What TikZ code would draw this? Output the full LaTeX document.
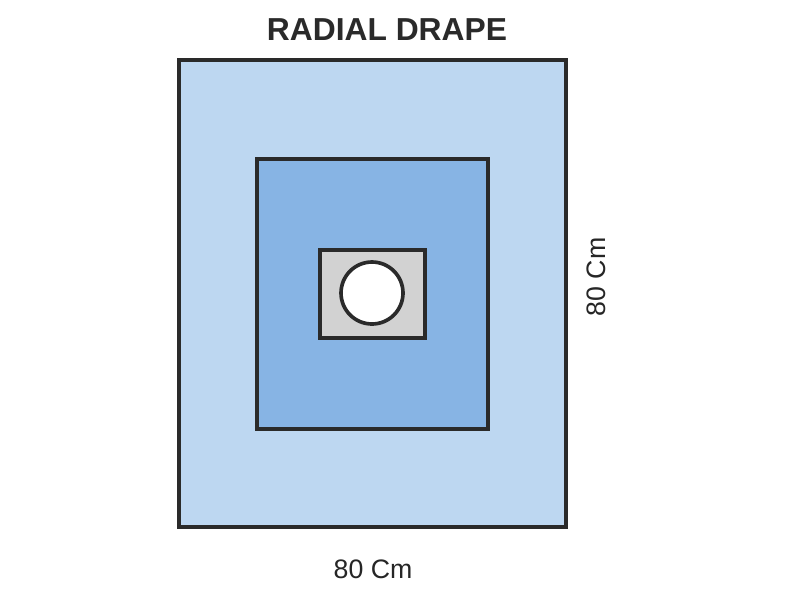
\documentclass[tikz,border=0pt]{standalone}
\usepackage{fontspec}
\setmainfont{Liberation Sans}
\definecolor{drapeout}{HTML}{BDD7F1}
\definecolor{drapemid}{HTML}{87B4E4}
\definecolor{drapewin}{HTML}{D2D2D2}
\definecolor{drapeline}{HTML}{2A2A2A}
\tikzset{
	drape/.style={draw=drapeline, line width=2.6pt},
	dimlabel/.style={font=\fontsize{19}{22}\selectfont, text=black!85}
}

\begin{document}
\begin{tikzpicture}[x=0.025cm, y=-0.025cm]
	\useasboundingbox (0,0) rectangle (800,600);
	\fill[white] (0,0) rectangle (800,600);
	\draw[drape, fill=drapeout] (179,60) rectangle (566,527);
	\draw[drape, fill=drapemid] (257,159) rectangle (488,429);
	\draw[drape, fill=drapewin] (320,250) rectangle (425,338);
	\draw[drape, fill=white] (372,293) circle (31);
	\node[text=drapeline] (title) at (387,30) {\fontsize{22.6}{26}\selectfont\bfseries RADIAL DRAPE};
	\node[dimlabel, rotate=90] (height) at (596,277) {80 Cm};
	\node[dimlabel] (width) at (373,569) {80 Cm};
\end{tikzpicture}
\end{document}
